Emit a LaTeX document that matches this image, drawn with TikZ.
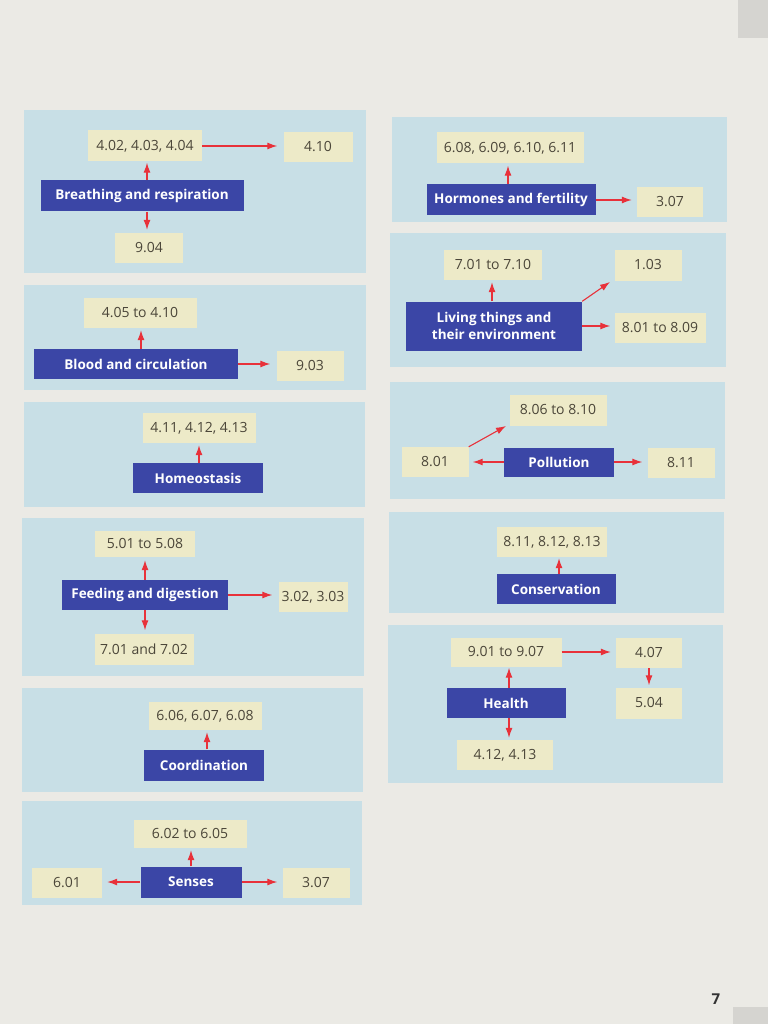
\documentclass[tikz,border=0pt]{standalone}
\usepackage{fontspec}
\setmainfont{Open Sans}
\usetikzlibrary{arrows.meta}
\definecolor{pagec}{HTML}{EBEAE5}
\definecolor{panelc}{HTML}{C8DFE6}
\definecolor{yelc}{HTML}{EDEAC8}
\definecolor{bluec}{HTML}{3B46A6}
\definecolor{redc}{HTML}{E8313A}
\definecolor{txtc}{HTML}{4B4639}
\definecolor{greyc}{HTML}{D5D4D0}
\tikzset{
  panel/.style={fill=panelc, draw=none},
  yb/.style={fill=yelc, draw=none, inner sep=0pt, text=txtc, font=\fontsize{14}{16}\selectfont},
  bb/.style={fill=bluec, draw=none, inner sep=0pt, text=white, font=\fontsize{13.5}{17}\selectfont\bfseries, align=center},
  arr/.style={draw=redc, line width=1.1pt, -{Latex[length=10pt,width=7pt]}},
}
\begin{document}
\begin{tikzpicture}[x=1pt,y=-1pt]
\useasboundingbox (0,0) rectangle (768,1024);
\fill[pagec] (0,0) rectangle (768,1024);
\fill[greyc] (738,0) rectangle (768,38);
\fill[greyc] (733,1007) rectangle (768,1024);
% panels left
\fill[panel] (24,110) rectangle (366,273);
\fill[panel] (24,285) rectangle (366,390);
\fill[panel] (24,402) rectangle (365,507);
\fill[panel] (22,518) rectangle (364,676);
\fill[panel] (22,688) rectangle (363,792);
\fill[panel] (22,801) rectangle (362,905);
% panels right
\fill[panel] (392,117) rectangle (727,222);
\fill[panel] (390,233) rectangle (726,367);
\fill[panel] (390,382) rectangle (725,499);
\fill[panel] (389,512) rectangle (724,613);
\fill[panel] (388,625) rectangle (723,783);

% Breathing
\node[yb, minimum width=114, minimum height=31] (a1) at (145,146) {4.02, 4.03, 4.04};
\node[yb, minimum width=69, minimum height=30] (a2) at (318,147) {4.10};
\node[bb, minimum width=203, minimum height=31] (a0) at (142,196) {Breathing and respiration};
\node[yb, minimum width=68, minimum height=30] (a3) at (149,248) {9.04};
\draw[arr, shorten >=6pt] (a1.east) -- (a2.west |- a1.east);
\draw[arr, shorten >=1pt] (a0.north -| 147,0) -- (a1.south -| 147,0);
\draw[arr, shorten >=3pt] (a0.south -| 147,0) -- (a3.north -| 147,0);

% Blood
\node[yb, minimum width=113, minimum height=30] (b1) at (140,313) {4.05 to 4.10};
\node[bb, minimum width=204, minimum height=30] (b0) at (136,364) {Blood and circulation};
\node[yb, minimum width=67, minimum height=30] (b2) at (310,366) {9.03};
\draw[arr, shorten >=2pt] (b0.north -| 141,0) -- (b1.south -| 141,0);
\draw[arr, shorten >=6pt] (b0.east) -- (b2.west |- b0.east);

% Homeostasis
\node[yb, minimum width=113, minimum height=30] (c1) at (199,428) {4.11, 4.12, 4.13};
\node[bb, minimum width=130, minimum height=30] (c0) at (198,478) {Homeostasis};
\draw[arr, shorten >=2pt] (c0.north -| 199,0) -- (c1.south -| 199,0);

% Feeding
\node[yb, minimum width=100, minimum height=26] (d1) at (145,544) {5.01 to 5.08};
\node[bb, minimum width=166, minimum height=30] (d0) at (145,595) {Feeding and digestion};
\node[yb, minimum width=69, minimum height=30] (d2) at (313,597) {3.02, 3.03};
\node[yb, minimum width=99, minimum height=31] (d3) at (144,649) {7.01 and 7.02};
\draw[arr, shorten >=3pt] (d0.north -| 145,0) -- (d1.south -| 145,0);
\draw[arr, shorten >=6pt] (d0.east) -- (d2.west |- d0.east);
\draw[arr, shorten >=3pt] (d0.south -| 145,0) -- (d3.north -| 145,0);

% Coordination
\node[yb, minimum width=113, minimum height=28] (e1) at (205,716) {6.06, 6.07, 6.08};
\node[bb, minimum width=120, minimum height=31] (e0) at (204,765) {Coordination};
\draw[arr, shorten >=2pt] (e0.north -| 207,0) -- (e1.south -| 207,0);

% Senses
\node[yb, minimum width=113, minimum height=28] (f1) at (190,834) {6.02 to 6.05};
\node[yb, minimum width=70, minimum height=30] (f2) at (67,883) {6.01};
\node[bb, minimum width=101, minimum height=31] (f0) at (191,882) {Senses};
\node[yb, minimum width=67, minimum height=30] (f3) at (316,883) {3.07};
\draw[arr, shorten >=2pt] (f0.north -| 191,0) -- (f1.south -| 191,0);
\draw[arr, shorten >=5pt] (f0.west) -- (f2.east |- f0.west);
\draw[arr, shorten >=5pt] (f0.east) -- (f3.west |- f0.east);

% Hormones
\node[yb, minimum width=147, minimum height=31] (g1) at (510,148) {6.08, 6.09, 6.10, 6.11};
\node[bb, minimum width=169, minimum height=31] (g0) at (511,200) {Hormones and fertility};
\node[yb, minimum width=66, minimum height=30] (g2) at (670,202) {3.07};
\draw[arr, shorten >=2pt] (g0.north -| 508,0) -- (g1.south -| 508,0);
\draw[arr, shorten >=5pt] (g0.east) -- (g2.west |- g0.east);

% Living things
\node[yb, minimum width=98, minimum height=30] (h1) at (493,265) {7.01 to 7.10};
\node[yb, minimum width=67, minimum height=31] (h2) at (648,265) {1.03};
\node[bb, minimum width=176, minimum height=49] (h0) at (494,326) {Living things and\\their environment};
\node[yb, minimum width=91, minimum height=30] (h3) at (660,328) {8.01 to 8.09};
\draw[arr, shorten >=2pt] (h0.north -| 492,0) -- (h1.south -| 492,0);
\draw[arr] (h0.north east) -- (610,282);
\draw[arr, shorten >=4pt] (h0.east) -- (h3.west |- h0.east);

% Pollution
\node[yb, minimum width=97, minimum height=31] (i1) at (558,410) {8.06 to 8.10};
\node[yb, minimum width=67, minimum height=30] (i2) at (435,462) {8.01};
\node[bb, minimum width=110, minimum height=29] (i0) at (559,462) {Pollution};
\node[yb, minimum width=67, minimum height=30] (i3) at (681,463) {8.11};
\draw[arr, shorten >=4pt] (i0.west) -- (i2.east |- i0.west);
\draw[arr, shorten >=5pt] (i0.east) -- (i3.west |- i0.east);
\draw[arr] (i2.north east) -- (506,426);

% Conservation
\node[yb, minimum width=110, minimum height=30] (j1) at (552,542) {8.11, 8.12, 8.13};
\node[bb, minimum width=119, minimum height=30] (j0) at (556,589) {Conservation};
\draw[arr, shorten >=1pt] (j0.north -| 559,0) -- (j1.south -| 559,0);

% Health
\node[yb, minimum width=111, minimum height=29] (k1) at (506,652) {9.01 to 9.07};
\node[yb, minimum width=66, minimum height=30] (k2) at (649,653) {4.07};
\node[bb, minimum width=119, minimum height=30] (k0) at (506,703) {Health};
\node[yb, minimum width=66, minimum height=31] (k3) at (649,703) {5.04};
\node[yb, minimum width=96, minimum height=30] (k4) at (505,755) {4.12, 4.13};
\draw[arr, shorten >=5pt] (k1.east) -- (k2.west |- k1.east);
\draw[arr, shorten >=2pt] (k2.south) -- (k3.north);
\draw[arr, shorten >=1pt] (k0.north -| 509,0) -- (k1.south -| 509,0);
\draw[arr, shorten >=2pt] (k0.south -| 509,0) -- (k4.north -| 509,0);

\node[font=\fontsize{15}{18}\selectfont\bfseries, text=black!80] (pn) at (716,999) {7};
\end{tikzpicture}
\end{document}
